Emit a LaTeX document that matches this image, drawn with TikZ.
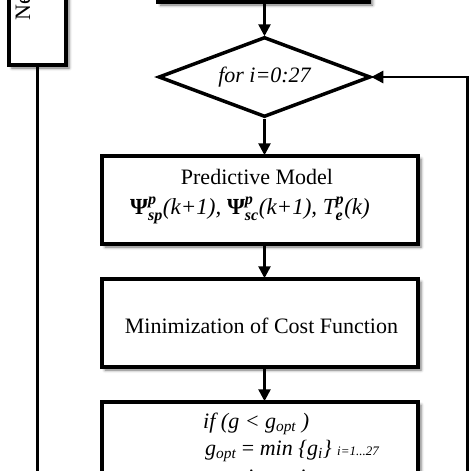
\documentclass[tikz,border=0pt]{standalone}
\usepackage{fontspec}
\setmainfont{Liberation Serif}
\usepackage{amsmath}
\usetikzlibrary{arrows.meta,shapes.geometric,shadows.blur}
\begin{document}
\begin{tikzpicture}[x=1pt,y=-1pt,
  box/.style={draw, line width=3.5pt, fill=white, minimum width=316pt, minimum height=88pt, inner sep=0pt,
    blur shadow={shadow xshift=3pt, shadow yshift=-3pt, shadow blur radius=3pt, shadow opacity=55}},
  arr/.style={line width=2.6pt, -{Triangle[length=12pt,width=12pt]}, shorten >=-1pt},
  lnk/.style={line width=2.6pt},
  txt/.style={font=\fontsize{22}{26}\selectfont, inner sep=0pt}]
\useasboundingbox (0,0) rectangle (471,471);
\clip (0,0) rectangle (471,471);
% boxes
\node[box, minimum width=212pt] (top) at (263.5,-42) {};
\node[box, minimum width=57pt, minimum height=150pt] (lb) at (37.5,-10) {};
\node[txt, rotate=90, anchor=base west] (nt) at (30,21) {Ne};
\node[draw, diamond, line width=3.5pt, aspect=2.6, minimum width=212pt, minimum height=80pt,
      inner sep=0pt, fill=white, font=\fontsize{22}{26}\selectfont] (d) at (264.5,77) {\itshape for i=0:27};
\node[box] (b1) at (260,200) {};
\node[box] (b2) at (260,323) {};
\node[box, minimum height=100pt] (b3) at (260,452) {};
% texts
\node[txt, anchor=base] (t1) at (257,184) {Predictive Model};
\node[txt, anchor=base, font=\fontsize{23}{27}\selectfont] (t2) at (250,214) {$\text{\bfseries Ψ}^{\text{\bfseries\itshape p}}_{\text{\bfseries\itshape sp}}$\textit{(k+1), }$\text{\bfseries Ψ}^{\text{\bfseries\itshape p}}_{\text{\bfseries\itshape sc}}$\textit{(k+1), }$\text{\itshape T}^{\text{\bfseries\itshape p}}_{\text{\bfseries\itshape e}}$\textit{(k)}};
\node[txt, anchor=base] (t3) at (261.5,333) {Minimization of Cost Function};
\node[txt, anchor=base west] (l1) at (203,428) {\itshape if (g < g\textsubscript{opt} )};
\node[txt, anchor=base west] (l2) at (205,455) {\itshape g\textsubscript{opt} \upshape= \itshape min \{g\textsubscript{i}\} {\fontsize{13}{15}\selectfont i=1...27}};
\node[txt, anchor=base west] (l3) at (247,484) {\itshape i\textsubscript{opt} = i};
% connectors
\coordinate (lend) at (37.5,475);
\coordinate (rb) at (467.5,475);
\draw[arr] (top.south -| d.north) -- (d.north);
\draw[arr] (d.south) -- (d.south |- b1.north);
\draw[arr] (d.south |- b1.south) -- (d.south |- b2.north);
\draw[arr] (d.south |- b2.south) -- (d.south |- b3.north);
\draw[lnk] (lb.south) -- (lend);
\draw[arr] (rb) |- (d.east);
\end{tikzpicture}
\end{document}
